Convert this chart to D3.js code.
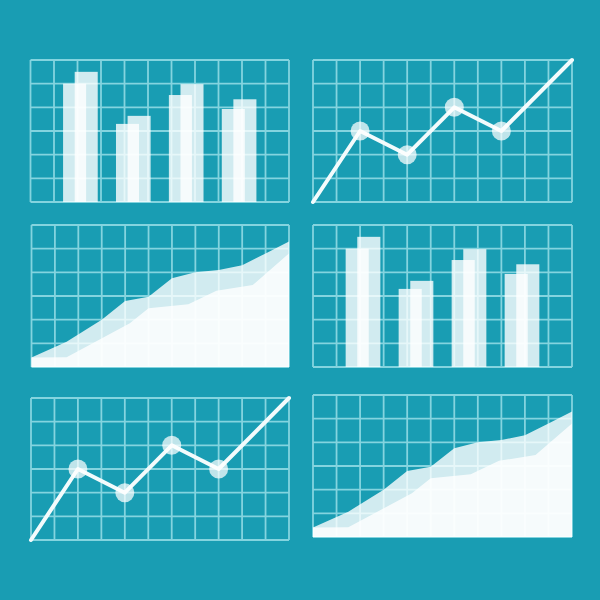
<!DOCTYPE html>
<html>
<head>
<meta charset="utf-8">
<script src="https://cdn.jsdelivr.net/npm/d3@7"></script>
<style>
  html, body { margin: 0; padding: 0; background: #199db3; }
  svg { display: block; }
</style>
</head>
<body>
<div id="chart"></div>
<script>
// ---- data ----
const gridCols = 11;
const gridRows = 6;

const barCategories = ["Q1", "Q2", "Q3", "Q4"];
const barSeriesA = [5.0, 3.3, 4.52, 3.93];   // left, shorter bar
const barSeriesB = [5.5, 3.64, 4.98, 4.34];  // right, taller bar

const lineX = [0, 2, 4, 6, 8, 11];
const lineY = [0, 3, 2, 4, 3, 6];

const areaBackX = [0, 1.5, 3, 4, 5, 6, 7, 8, 9, 10, 11];
const areaBackY = [0.4, 1.07, 2.0, 2.79, 2.97, 3.75, 4.0, 4.1, 4.3, 4.8, 5.3];
const areaFrontX = [0, 1.5, 4.2, 5, 6.7, 7.9, 9.45, 11];
const areaFrontY = [0.4, 0.41, 1.85, 2.48, 2.65, 3.22, 3.46, 4.8];

// ---- layout ----
const W = 600, H = 600;
const panels = [
  { type: "bar",  x: 30.5, y: 60,  w: 258.5, h: 142 },
  { type: "line", x: 313,  y: 60,  w: 259,   h: 142 },
  { type: "area", x: 31.5, y: 225, w: 257.5, h: 142 },
  { type: "bar",  x: 313,  y: 225, w: 259,   h: 142 },
  { type: "line", x: 31,   y: 398, w: 258,   h: 142 },
  { type: "area", x: 313,  y: 395, w: 259,   h: 142 }
];

const bg = "#199db3";
const gridColor = "#84d4df";
const translucent = "rgba(255,255,255,0.8)";
const lineColor = "#f3fbfc";

const svg = d3.select("#chart").append("svg")
  .attr("width", W).attr("height", H);
svg.append("rect").attr("width", W).attr("height", H).attr("fill", bg);

panels.forEach(p => {
  const g = svg.append("g");
  const x = d3.scaleLinear().domain([0, gridCols]).range([p.x, p.x + p.w]);
  const y = d3.scaleLinear().domain([0, gridRows]).range([p.y + p.h, p.y]);

  // grid
  const grid = g.append("g").attr("stroke", gridColor).attr("stroke-width", 1.8).attr("fill", "none");
  grid.selectAll("line.v").data(d3.range(gridCols + 1)).join("line")
    .attr("x1", d => x(d)).attr("x2", d => x(d))
    .attr("y1", y(0)).attr("y2", y(gridRows));
  grid.selectAll("line.h").data(d3.range(gridRows + 1)).join("line")
    .attr("y1", d => y(d)).attr("y2", d => y(d))
    .attr("x1", x(0)).attr("x2", x(gridCols));

  if (p.type === "bar") {
    const band = d3.scaleBand().domain(barCategories)
      .range([p.x, p.x + p.w]).paddingInner(0.345).paddingOuter(0.616);
    const bw = band.bandwidth();
    const barW = bw * 0.665;
    g.selectAll("rect.a").data(barCategories).join("rect")
      .attr("x", d => band(d))
      .attr("y", (d, i) => y(barSeriesA[i]))
      .attr("width", barW)
      .attr("height", (d, i) => y(0) - y(barSeriesA[i]))
      .attr("fill", translucent);
    g.selectAll("rect.b").data(barCategories).join("rect")
      .attr("x", d => band(d) + bw - barW)
      .attr("y", (d, i) => y(barSeriesB[i]))
      .attr("width", barW)
      .attr("height", (d, i) => y(0) - y(barSeriesB[i]))
      .attr("fill", translucent);
  } else if (p.type === "line") {
    const pts = lineX.map((v, i) => [v, lineY[i]]);
    const inner = pts.slice(1, -1);
    g.append("path")
      .attr("d", d3.line().x(d => x(d[0])).y(d => y(d[1]))(pts))
      .attr("fill", "none").attr("stroke", lineColor)
      .attr("stroke-width", 4).attr("stroke-linecap", "round").attr("stroke-linejoin", "round");
    g.selectAll("circle").data(inner).join("circle")
      .attr("cx", d => x(d[0])).attr("cy", d => y(d[1]))
      .attr("r", 9.5).attr("fill", "rgba(255,255,255,0.72)");
  } else if (p.type === "area") {
    const area = d3.area().x(d => x(d[0])).y0(y(0)).y1(d => y(d[1]));
    g.append("path").attr("d", area(areaBackX.map((v, i) => [v, areaBackY[i]])))
      .attr("fill", translucent);
    g.append("path").attr("d", area(areaFrontX.map((v, i) => [v, areaFrontY[i]])))
      .attr("fill", translucent);
  }
});
</script>
</body>
</html>
